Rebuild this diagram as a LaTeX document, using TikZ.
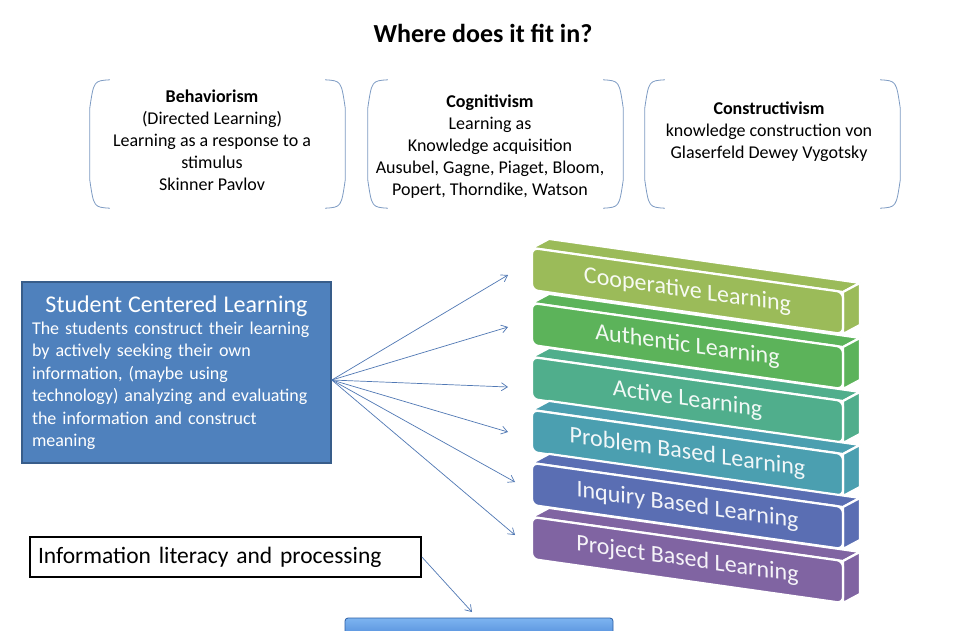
\documentclass[tikz,border=0pt]{standalone}
\usepackage{fontspec}
\setmainfont{Carlito}
\usepackage{tikz}
\usetikzlibrary{calc,positioning,arrows.meta}

\definecolor{brkC}{RGB}{125,155,195}
\definecolor{sclC}{HTML}{4F81BD}
\definecolor{sclD}{HTML}{385D8A}
\definecolor{arrC}{RGB}{80,120,180}
\definecolor{coopC}{HTML}{9BBB59}
\definecolor{authC}{HTML}{5CB35A}
\definecolor{actC}{HTML}{50AE8C}
\definecolor{probC}{HTML}{4B9FB0}
\definecolor{inqC}{HTML}{5A6EB3}
\definecolor{projC}{HTML}{8064A2}

\begin{document}
\begin{tikzpicture}[x=1pt,y=-1pt,
    brkbox/.style={minimum width=255pt,minimum height=128pt,inner sep=0pt},
    brkline/.style={draw=brkC,line width=0.8pt},
    theory/.style={align=center,font=\fontsize{18}{22}\selectfont},
    arr/.style={draw=arrC,line width=0.7pt,-{Straight Barb[length=6pt,width=8pt]}},
    block/.style={draw=white,line width=2.2pt,rounded corners=6pt,minimum width=311pt,
      minimum height=42pt,transform shape,font=\fontsize{24}{24}\selectfont},
    face/.style={draw=white,line width=2.2pt,line join=round}]
  \useasboundingbox[fill=white] (0,0) rectangle (960,630);

  \node[font=\bfseries\fontsize{26}{28}\selectfont] (title) at (483,33) {Where does it fit in?};

  % theories
  \node[brkbox] (box1) at (217.5,144) {};
  \node[brkbox] (box2) at (495.5,144) {};
  \node[brkbox] (box3) at (772.5,144) {};
  \foreach \b in {box1,box2,box3}{
    \draw[brkline] ([xshift=20pt]\b.north west) .. controls ([xshift=4pt,yshift=-1pt]\b.north west) .. ([yshift=-28pt]\b.north west)
      -- ([yshift=28pt]\b.south west) .. controls ([xshift=4pt,yshift=1pt]\b.south west) .. ([xshift=20pt]\b.south west);
    \draw[brkline] ([xshift=-20pt]\b.north east) .. controls ([xshift=-4pt,yshift=-1pt]\b.north east) .. ([yshift=-28pt]\b.north east)
      -- ([yshift=28pt]\b.south east) .. controls ([xshift=-4pt,yshift=1pt]\b.south east) .. ([xshift=-20pt]\b.south east);
  }
  \node[theory] (behav) at (212,140) {\textbf{Behaviorism}\\(Directed Learning)\\Learning as a response to a\\stimulus\\Skinner Pavlov};
  \node[theory] (cogn) at (490,147) {\textbf{Cognitivism}\\Learning as\\Knowledge acquisition\\Ausubel, Gagne, Piaget, Bloom,\\Popert, Thorndike, Watson};
  \node[theory] (constr) at (769,131.5) {\textbf{Constructivism}\\knowledge construction von\\Glaserfeld Dewey Vygotsky};

  % student centered learning
  \node[fill=sclC,draw=sclD,line width=1.6pt,text=white,minimum width=309pt,minimum height=181pt,
    text width=289pt,inner xsep=10pt,align=left,font=\fontsize{18}{22.4}\selectfont] (scl) at (176.5,372.5)
    {{\centering\fontsize{24}{26}\selectfont Student Centered Learning\par}
     The students construct their learning\\by actively seeking their own\\information, (maybe using\\technology) analyzing and evaluating\\the information and construct\\meaning};

  \node[draw=black,line width=1.8pt,fill=white,minimum height=40pt,text width=375pt,inner xsep=8pt,
    align=left,font=\fontsize{23.5}{26}\selectfont] (info) at (225.5,557) {Information literacy and processing};

  \shade[top color={rgb,255:red,125;green,180;blue,240},bottom color={rgb,255:red,55;green,115;blue,205},
    draw={rgb,255:red,45;green,95;blue,165},line width=0.8pt,rounded corners=3pt] (345,618) rectangle (613,650);
  \node[inner sep=0pt,minimum width=268pt,minimum height=32pt] (next) at (479,634) {};

  % learning blocks
  \foreach \y/\c/\t [count=\i] in {248/coopC/Cooperative Learning,303/authC/Authentic Learning,
      357/actC/Active Learning,410/probC/Problem Based Learning,463/inqC/Inquiry Based Learning,
      517/projC/Project Based Learning}{
    \begin{scope}[shift={(532,\y)},yslant=-0.1415]
      \fill[\c,face] (0,0) -- (311,0) -- (328,-11.5) -- (17,-11.5) -- cycle;
      \fill[\c,face] (311,0) -- (328,-11.5) -- (328,30.5) -- (311,42) -- cycle;
      \node[block,fill=\c,text=\c!8!white] (blk\i) at (155.5,21) {\t};
    \end{scope}
  }

  % arrows
  \coordinate (t1) at (508,275);
  \coordinate (t2) at (508,327);
  \coordinate (t3) at (508,387);
  \coordinate (t4) at (508,432);
  \coordinate (t5) at (515,482);
  \coordinate (t6) at (515,535);
  \foreach \i in {1,...,6}
    \draw[arr] ([yshift=-7.5pt]scl.east) -- (t\i);
  \coordinate (t7) at (472,612);
  \draw[arr] (info.east) -- (t7);
\end{tikzpicture}
\end{document}
